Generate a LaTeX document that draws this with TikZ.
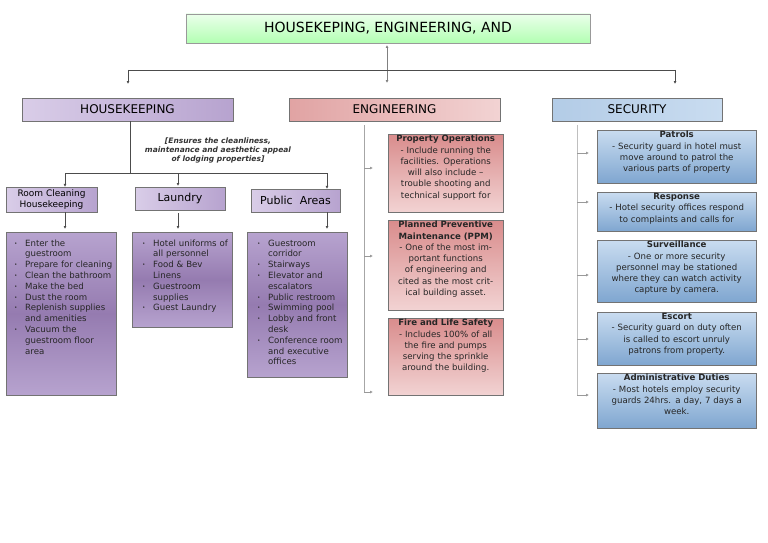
\documentclass[tikz,border=0pt]{standalone}
\usepackage{fontspec}
\setmainfont{DejaVu Sans}
\usepackage{enumitem}
\usetikzlibrary{arrows.meta}
\definecolor{pl}{HTML}{D9CDE8}
\definecolor{pm}{HTML}{957BB0}
\definecolor{pd}{HTML}{B7A3CF}
\definecolor{rl}{HTML}{F2D3D3}
\definecolor{rm}{HTML}{D98C8C}
\definecolor{bl}{HTML}{C9DCF0}
\definecolor{bm}{HTML}{7FA6D0}
\setlist[itemize]{leftmargin=16pt,labelsep=8pt,itemsep=0pt,topsep=0pt,parsep=0pt,partopsep=0pt,label=\raisebox{1pt}{\tiny\textbullet}}
\begin{document}
\begin{tikzpicture}[x=1pt,y=-1pt,
  ln/.style={draw=black!70,line width=0.8pt},
  arr/.style={ln,-{Latex[length=3pt,width=3pt]}},
  pur/.style={draw=black!55,top color=pd,bottom color=pd,middle color=pm},
  purl/.style={draw=black!55,left color=pl,right color=pd},
  red/.style={draw=black!55,top color=rm,bottom color=rl},
  redl/.style={draw=black!55,left color=rm!80!white,right color=rl},
  blu/.style={draw=black!55,top color=bl,bottom color=bm},
  blul/.style={draw=black!55,left color=bl!70!bm,right color=bl},
  txt/.style={font=\fontsize{8.6}{11.3}\selectfont,text=black!85,align=center,anchor=north,inner sep=1pt},
  lst/.style={font=\fontsize{8.6}{10.8}\selectfont,text=black!85,anchor=north west,inner sep=0pt},
]
\useasboundingbox[fill=white] (0,0) rectangle (768,543);
% title
\node[draw=black!40,top color=green!8!white,bottom color=green!30!white,minimum width=404pt,minimum height=29pt,font=\fontsize{14}{16}\selectfont] (title) at (388,28.5) {HOUSEKEPING, ENGINEERING, AND};
% level 1
\node[purl,minimum width=211pt,minimum height=23pt,font=\fontsize{12}{14}\selectfont] (hk) at (127.5,109.5) {HOUSEKEEPING};
\node[redl,minimum width=211pt,minimum height=23pt,font=\fontsize{12}{14}\selectfont] (en) at (394.5,109.5) {ENGINEERING};
\node[blul,minimum width=170pt,minimum height=23pt,font=\fontsize{12}{14}\selectfont] (se) at (637,109.5) {SECURITY};
\coordinate (t1) at (387,45);
\coordinate (t2) at (387,83);
\draw[ln,black!50,{Latex[length=3pt,width=3pt]}-{Latex[length=3pt,width=3pt]}] (t1) -- (t2);
\coordinate (hl) at (128,70); \coordinate (hr) at (675,70);
\draw[ln] (hl) -- (hr);
\draw[arr] (hl) -- (128,84);
\draw[arr] (hr) -- (675,84);
% housekeeping branch
\coordinate (hb) at (130,173);
\draw[ln] (130,121) -- (hb);
\node[font=\fontsize{7.5}{9}\itshape\bfseries\selectfont,align=center,text=black!80] (note) at (218,150) {[Ensures the cleanliness,\\maintenance and aesthetic appeal\\of lodging properties]};
\coordinate (hbl) at (65,173); \coordinate (hbr) at (327,173);
\draw[ln] (hbl) -- (hbr);
\node[purl,minimum width=91pt,minimum height=25pt,font=\fontsize{9}{11}\selectfont,align=center,inner sep=1pt] (rc) at (51.5,199.5) {Room Cleaning\\Housekeeping};
\node[purl,minimum width=90pt,minimum height=23pt,font=\fontsize{11}{13}\selectfont] (la) at (180,198.5) {Laundry};
\node[purl,minimum width=89pt,minimum height=23pt,font=\fontsize{11}{13}\selectfont] (pa) at (295.5,200.5) {Public\ \ Areas};
\draw[arr] (hbl) -- (rc.north-|hbl);
\draw[arr] (178,173) -- (178,186);
\draw[arr] (hbr) -- (pa.north-|hbr);
% lists
\node[pur,anchor=north west,minimum width=110pt,minimum height=163pt] (rcl) at (6,232) {};
\node[lst,text width=104pt] (rct) at (9,235) {\begin{itemize}\item Enter the guestroom\item Prepare for cleaning\item Clean the bathroom\item Make the bed\item Dust the room\item Replenish supplies and amenities\item Vacuum the guestroom floor area\end{itemize}};
\node[pur,anchor=north west,minimum width=100pt,minimum height=95pt] (lal) at (132,232) {};
\node[lst,text width=94pt] (lat) at (137,235) {\begin{itemize}\item Hotel uniforms of all personnel\item Food \& Bev Linens\item Guestroom supplies\item Guest Laundry\end{itemize}};
\node[pur,anchor=north west,minimum width=100pt,minimum height=145pt] (pal) at (247,232) {};
\node[lst,text width=94pt] (pat) at (252,235) {\begin{itemize}\item Guestroom corridor\item Stairways\item Elevator and escalators\item Public restroom\item Swimming pool\item Lobby and front desk\item Conference room and executive offices\end{itemize}};
\draw[arr] (rc.south-|hbl) -- (65,229);
\draw[arr] (178,213) -- (178,229);
\draw[arr] (pa.south-|hbr) -- (327,229);
% engineering
\coordinate (eb) at (364,392);
\draw[ln,black!35] (364,125) -- (eb);
\node[red,anchor=north west,minimum width=115pt,minimum height=78pt] (po) at (388,134) {};
\node[txt,text width=113pt] (pot) at (po.north) {\textbf{Property Operations}\\- Include running the facilities. Operations will also include -- trouble shooting and technical support for};
\node[red,anchor=north west,minimum width=115pt,minimum height=90pt] (ppm) at (388,220) {};
\node[txt,text width=113pt] (ppmt) at (ppm.north) {\textbf{Planned Preventive Maintenance (PPM)}\\- One of the most important functions of engineering and cited as the most critical building asset.};
\node[red,anchor=north west,minimum width=115pt,minimum height=77pt] (fl) at (388,318) {};
\node[txt,text width=113pt] (flt) at (fl.north) {\textbf{Fire and Life Safety}\\- Includes 100\% of all the fire and pumps serving the sprinkle around the building.};
\draw[arr,black!40] (364,168) -- (373,168);
\draw[arr,black!40] (364,256) -- (373,256);
\draw[arr,black!40] (eb) -- (373,392);
% security
\coordinate (sb) at (577,395);
\draw[ln,black!25] (577,125) -- (sb);
\node[blu,anchor=north west,minimum width=159pt,minimum height=53pt] (s1) at (597,130) {};
\node[txt,text width=157pt] (s1t) at (s1.north) {\textbf{Patrols}\\- Security guard in hotel must\\move around to patrol the\\various parts of property};
\node[blu,anchor=north west,minimum width=159pt,minimum height=39pt] (s2) at (597,192) {};
\node[txt,text width=157pt] (s2t) at (s2.north) {\textbf{Response}\\- Hotel security offices respond\\to complaints and calls for};
\node[blu,anchor=north west,minimum width=159pt,minimum height=62pt] (s3) at (597,240) {};
\node[txt,text width=157pt] (s3t) at (s3.north) {\textbf{Surveillance}\\- One or more security\\personnel may be stationed\\where they can watch activity\\capture by camera.};
\node[blu,anchor=north west,minimum width=159pt,minimum height=53pt] (s4) at (597,312) {};
\node[txt,text width=157pt] (s4t) at (s4.north) {\textbf{Escort}\\- Security guard on duty often\\is called to escort unruly\\patrons from property.};
\node[blu,anchor=north west,minimum width=159pt,minimum height=55pt] (s5) at (597,373) {};
\node[txt,text width=157pt] (s5t) at (s5.north) {\textbf{Administrative Duties}\\- Most hotels employ security\\guards 24hrs. a day, 7 days a\\week.};
\foreach \y in {153,202,275,339} \draw[arr,black!40] (577,\y) -- (589,\y);
\draw[arr,black!40] (sb) -- (589,395);
\end{tikzpicture}
\end{document}
